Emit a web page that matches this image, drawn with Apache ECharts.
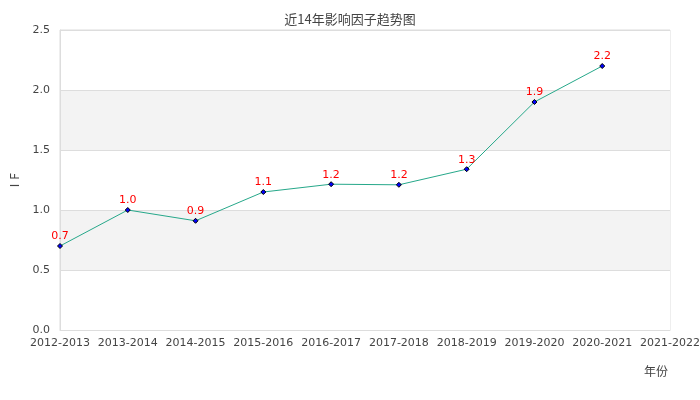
<!DOCTYPE html>
<html>
<head>
<meta charset="utf-8">
<script src="https://cdn.jsdelivr.net/npm/echarts@6/dist/echarts.min.js"></script>
<style>
  html, body { margin: 0; padding: 0; background: #fff; }
  #chart { width: 700px; height: 400px; }
</style>
</head>
<body>
<div id="chart"></div>
<script>
// 年份
var years = ['2012-2013', '2013-2014', '2014-2015', '2015-2016', '2016-2017',
  '2017-2018', '2018-2019', '2019-2020', '2020-2021', '2021-2022'];
// 影响因子
var ifValues = [0.7, 1.0, 0.91, 1.15, 1.215, 1.21, 1.34, 1.9, 2.2];

var myChart = echarts.init(document.getElementById('chart'));
myChart.setOption({
  animation: false,
  textStyle: { fontFamily: 'DejaVu Sans, Noto Sans CJK SC' },
  title: {
    text: '近14年影响因子趋势图',
    left: 'center',
    top: 8,
    textStyle: { fontSize: 13, fontWeight: 'normal', color: '#444', fontFamily: 'Noto Sans CJK SC' }
  },
  grid: {
    left: 60,
    right: 30,
    top: 30,
    bottom: 70,
    show: true,
    borderColor: '#ddd',
    borderWidth: 1,
    outerBoundsMode: 'none'
  },
  xAxis: {
    type: 'category',
    data: years,
    boundaryGap: false,
    name: '年份',
    nameLocation: 'end',
    nameGap: 0,
    nameTextStyle: {
      color: '#444', fontSize: 12, align: 'right', verticalAlign: 'top',
      padding: [35, 2, 0, 0], fontFamily: 'Noto Sans CJK SC'
    },
    axisLine: { lineStyle: { color: '#ddd' } },
    axisTick: { show: false },
    axisLabel: { color: '#444', fontSize: 11, margin: 8, interval: 0 }
  },
  yAxis: {
    type: 'value',
    min: 0,
    max: 2.5,
    interval: 0.5,
    name: 'I F',
    nameLocation: 'middle',
    nameGap: 35,
    nameTextStyle: { color: '#444', fontSize: 12 },
    axisLine: { show: true, lineStyle: { color: '#ddd' } },
    axisTick: { show: false },
    axisLabel: {
      color: '#444', fontSize: 11, margin: 10,
      formatter: function (v) { return v.toFixed(1); }
    },
    splitLine: { lineStyle: { color: '#ddd' } },
    splitArea: { show: true, areaStyle: { color: ['#fff', '#f3f3f3'] } }
  },
  series: [{
    type: 'line',
    data: ifValues,
    symbol: 'diamond',
    symbolSize: 5,
    lineStyle: { color: '#26a88a', width: 1 },
    itemStyle: { color: '#0000ff', borderColor: '#000', borderWidth: 1 },
    label: {
      show: true,
      position: 'top',
      distance: 1,
      color: '#ff0000',
      fontSize: 11,
      formatter: function (p) { return p.value.toFixed(1); }
    }
  }]
});
</script>
</body>
</html>
